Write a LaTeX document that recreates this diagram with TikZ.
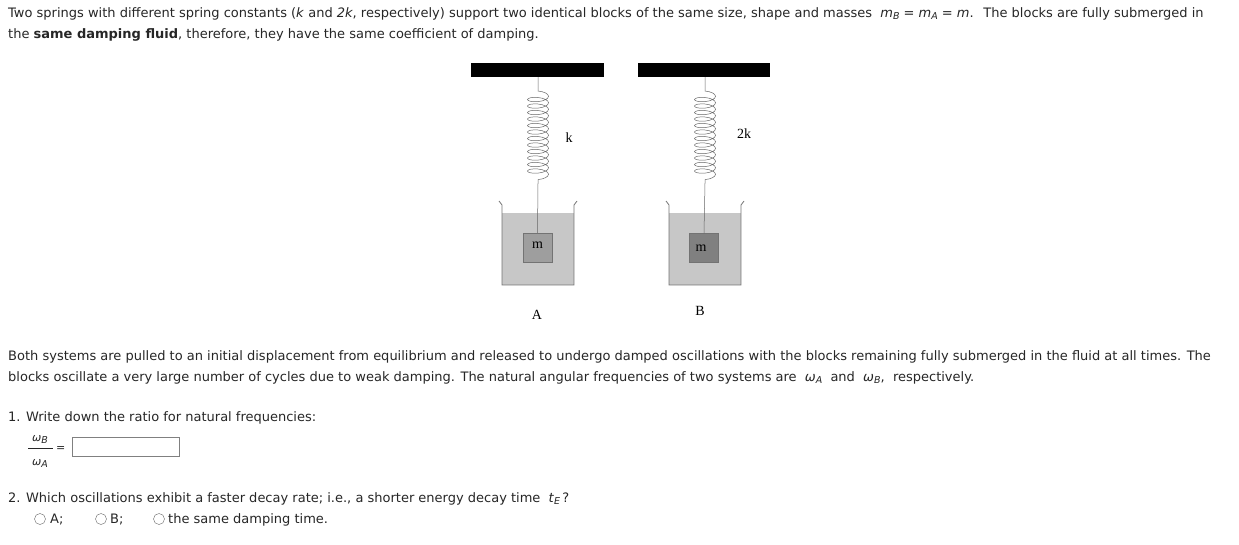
\documentclass[tikz,border=0pt]{standalone}
\usepackage{fontspec}
\setmainfont{DejaVu Sans}
\newfontfamily\figfont{Liberation Serif}
\usetikzlibrary{decorations.pathmorphing}
\newcommand{\mysub}[1]{\raisebox{-0.35ex}{\fontsize{9.5}{10}\selectfont\textit{#1}}}
\begin{document}
\begin{tikzpicture}[x=1pt,y=-1pt,
  txt/.style={anchor=base west,inner sep=0pt,font=\fontsize{13}{15}\selectfont,text=black!85},
  lbl/.style={inner sep=0pt,font=\figfont\fontsize{14}{15}\selectfont},
  bar/.style={fill=black},
  fluid/.style={fill=black!22,draw=none},
  wall/.style={draw=black!55,line width=0.8pt},
  springd/.style={draw=black!60,line width=0.5pt,decoration={coil,segment length=6.5pt,amplitude=10.5pt,aspect=0.35},decorate},
  radio/.style={circle,draw=black!60,minimum size=11pt,inner sep=0pt}]
\useasboundingbox (0,0) rectangle (1239,544);
\node[txt] (t1) at (8,17) {Two springs with different spring constants (\textit{k} and \textit{2k}, respectively) support two identical blocks of the same size, shape and masses \ \textit{m}\mysub{B} = \textit{m}\mysub{A} = \textit{m}. \ The blocks are fully submerged in};
\node[txt] (t2) at (8,38) {the \textbf{same damping fluid}, therefore, they have the same coefficient of damping.};
% system A
\fill[bar] (471,63) rectangle (604,77);
\fill[fluid] (502,213) rectangle (574,285);
\draw[wall] (499,201) -- (502,205) -- (502,285) -- (574,285) -- (574,205) -- (577,201);
\node[draw=black!55,fill=black!38,minimum size=29pt,inner sep=0pt] (mA) at (537.5,247.5) {};
\node[lbl] at (537.5,245) {m};
\coordinate (sA1) at (538,91);
\coordinate (sA2) at (538,183);
\draw[black!60,line width=0.5pt] (538,77) -- (sA1) (sA2) -- (mA.north);
\draw[springd] (sA1) -- (sA2);
\node[lbl] (kA) at (569,138) {k};
\node[lbl] (LA) at (537,315) {A};
% system B
\fill[bar] (638,63) rectangle (770,77);
\fill[fluid] (669,213) rectangle (741,285);
\draw[wall] (666,201) -- (669,205) -- (669,285) -- (741,285) -- (741,205) -- (744,201);
\node[draw=black!55,fill=black!50,minimum size=29pt,inner sep=0pt] (mB) at (704,248) {};
\node[lbl] at (701,248) {m};
\coordinate (sB1) at (705,91);
\coordinate (sB2) at (705,183);
\draw[black!60,line width=0.5pt] (705,77) -- (sB1) (sB2) -- (mB.north);
\draw[springd] (sB1) -- (sB2);
\node[lbl] (kB) at (744,134) {2k};
\node[lbl] (LB) at (700,311) {B};
% text
\node[txt] (p1) at (8,360) {Both systems are pulled to an initial displacement from equilibrium and released to undergo damped oscillations with the blocks remaining fully submerged in the fluid at all times. The};
\node[txt] (p2) at (8,381) {blocks oscillate a very large number of cycles due to weak damping. The natural angular frequencies of two systems are \ \textit{ω}\mysub{A} \ and \ \textit{ω}\mysub{B}, \ respectively.};
\node[txt] (q1) at (8,421) {1. Write down the ratio for natural frequencies:};
\node[txt,font=\fontsize{11}{12}\selectfont,anchor=base] at (40,441) {\textit{ω}\mysub{B}};
\draw[black!85,line width=0.6pt] (28,448) -- (53,448);
\node[txt,font=\fontsize{11}{12}\selectfont,anchor=base] at (40,465) {\textit{ω}\mysub{A}};
\node[txt,font=\fontsize{11}{12}\selectfont] at (56,451) {=};
\node[draw=black!50,line width=0.6pt,minimum width=107pt,minimum height=19pt,inner sep=0pt] (box) at (125.5,446.5) {};
\node[txt] (q2) at (8,502) {2. Which oscillations exhibit a faster decay rate; i.e., a shorter energy decay time \ \textit{t}\mysub{E}\,?};
\node[radio] (rA) at (40,519) {};
\node[txt] at (50,523) {A;};
\node[radio] (rB) at (101,519) {};
\node[txt] at (110,523) {B;};
\node[radio] (rC) at (159,519) {};
\node[txt] at (168,523) {the same damping time.};
\end{tikzpicture}
\end{document}
